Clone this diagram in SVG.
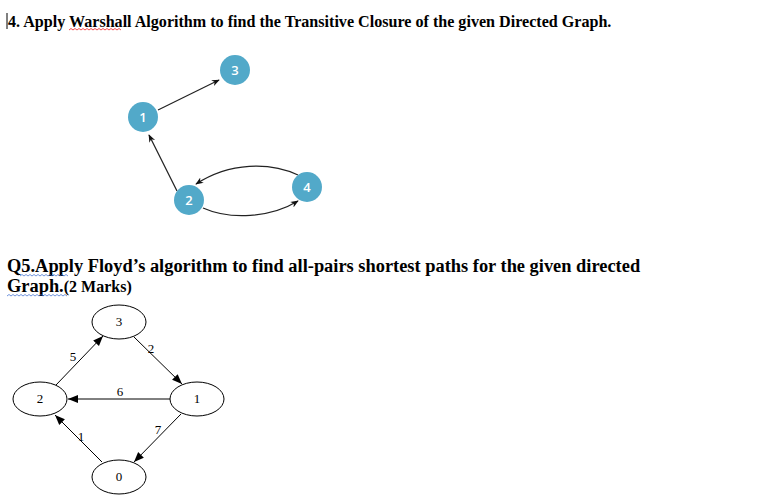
<svg xmlns="http://www.w3.org/2000/svg" width="773" height="501" viewBox="0 0 773 501">
<style>
.t{font-family:"Liberation Serif",serif;font-weight:bold;font-size:16.1px;fill:#000}
.q{font-family:"Liberation Serif",serif;font-weight:bold;font-size:18.4px;fill:#000}
.bn{fill:#52a9c9}
.bl{font-family:"Open Sans",sans-serif;font-weight:600;font-size:13px;fill:#fff;text-anchor:middle}
.e{fill:#fff;stroke:#000;stroke-width:1}
.el{font-family:"Liberation Serif",serif;font-size:13px;fill:#000;text-anchor:middle}
.c{fill:none;stroke:#222;stroke-width:1.2}
.c2{fill:none;stroke:#000;stroke-width:1}
.sq{fill:none;stroke:#e00;stroke-width:0.7}
.sqb{fill:none;stroke:#36c;stroke-width:0.7}
</style>
<defs>
<marker id="a" viewBox="0 0 10 10" refX="9" refY="5" markerWidth="8" markerHeight="8" orient="auto" markerUnits="userSpaceOnUse"><path d="M0,1 L10,5 L0,9 L3,5 Z" fill="#111"/></marker>
<marker id="b" viewBox="0 0 10 10" refX="10" refY="5" markerWidth="10" markerHeight="10" orient="auto" markerUnits="userSpaceOnUse"><path d="M0,1 L10,5 L0,9 Z" fill="#000"/></marker>
</defs>
<rect width="773" height="501" fill="#fff"/>
<line x1="7" y1="13" x2="7" y2="29" stroke="#000" stroke-width="1"/>
<text class="t" x="8" y="27">4. Apply Warshall Algorithm to find the Transitive Closure of the given Directed Graph.</text>
<path class="sq" d="M69,30 l2,-1.5 l2,1.5 l2,-1.5 l2,1.5 l2,-1.5 l2,1.5 l2,-1.5 l2,1.5 l2,-1.5 l2,1.5 l2,-1.5 l2,1.5 l2,-1.5 l2,1.5 l2,-1.5 l2,1.5 l2,-1.5 l2,1.5 l2,-1.5 l2,1.5 l2,-1.5 l2,1.5 l2,-1.5 l2,1.5 l2,-1.5 l2,1.5"/>
<g id="connectors1">
<line class="c" x1="158" y1="110" x2="219" y2="80" marker-end="url(#a)"/>
<line class="c" x1="177" y1="191" x2="149" y2="135" marker-end="url(#a)"/>
<path class="c" d="M298,175 C270,162 230,162 196,184" marker-end="url(#a)"/>
<path class="c" d="M203,208 C230,220 270,218 298,201" marker-end="url(#a)"/>
</g>
<g id="w3"><circle class="bn" cx="235" cy="70" r="15"/><text class="bl" x="235" y="75">3</text></g>
<g id="w1"><circle class="bn" cx="143" cy="117" r="15"/><text class="bl" x="143" y="122">1</text></g>
<g id="w2"><circle class="bn" cx="189" cy="200" r="15"/><text class="bl" x="189" y="205">2</text></g>
<g id="w4"><circle class="bn" cx="307" cy="187" r="15"/><text class="bl" x="307" y="192">4</text></g>
<text class="q" x="7" y="272">Q5.Apply Floyd’s algorithm to find all-pairs shortest paths for the given directed</text>
<text class="q" x="7" y="292">Graph.<tspan font-size="16px">(2 Marks)</tspan></text>
<path class="sqb" d="M20,276 l2,-1.5 l2,1.5 l2,-1.5 l2,1.5 l2,-1.5 l2,1.5 l2,-1.5 l2,1.5 l2,-1.5 l2,1.5 l2,-1.5 l2,1.5 l2,-1.5 l2,1.5 l2,-1.5 l2,1.5 l2,-1.5 l2,1.5 l2,-1.5 l2,1.5 l2,-1.5 l2,1.5 l2,-1.5 l2,1.5"/>
<path class="sqb" d="M7,296 l2,-1.5 l2,1.5 l2,-1.5 l2,1.5 l2,-1.5 l2,1.5 l2,-1.5 l2,1.5 l2,-1.5 l2,1.5 l2,-1.5 l2,1.5 l2,-1.5 l2,1.5 l2,-1.5 l2,1.5 l2,-1.5 l2,1.5 l2,-1.5 l2,1.5 l2,-1.5 l2,1.5 l2,-1.5 l2,1.5 l2,-1.5 l2,1.5 l2,-1.5 l2,1.5 l2,-1.5 l2,1.5"/>
<g id="connectors2">
<line class="c2" x1="56" y1="385" x2="103" y2="336" marker-end="url(#b)"/>
<line class="c2" x1="134" y1="337" x2="182" y2="384" marker-end="url(#b)"/>
<line class="c2" x1="170" y1="399" x2="68" y2="399" marker-end="url(#b)"/>
<line class="c2" x1="181" y1="414" x2="134" y2="462" marker-end="url(#b)"/>
<line class="c2" x1="102" y1="462" x2="55" y2="415" marker-end="url(#b)"/>
<text class="el" x="73" y="361">5</text>
<text class="el" x="151" y="353">2</text>
<text class="el" x="120" y="396">6</text>
<text class="el" x="158" y="434">7</text>
<text class="el" x="81" y="441">1</text>
</g>
<g id="f3"><ellipse class="e" cx="119" cy="322" rx="27" ry="17"/><text class="el" x="119" y="326">3</text></g>
<g id="f2"><ellipse class="e" cx="40" cy="399" rx="27" ry="17"/><text class="el" x="40" y="403">2</text></g>
<g id="f1"><ellipse class="e" cx="197" cy="399" rx="27" ry="17"/><text class="el" x="197" y="403">1</text></g>
<g id="f0"><ellipse class="e" cx="119" cy="477" rx="27" ry="17"/><text class="el" x="119" y="481">0</text></g>
</svg>
